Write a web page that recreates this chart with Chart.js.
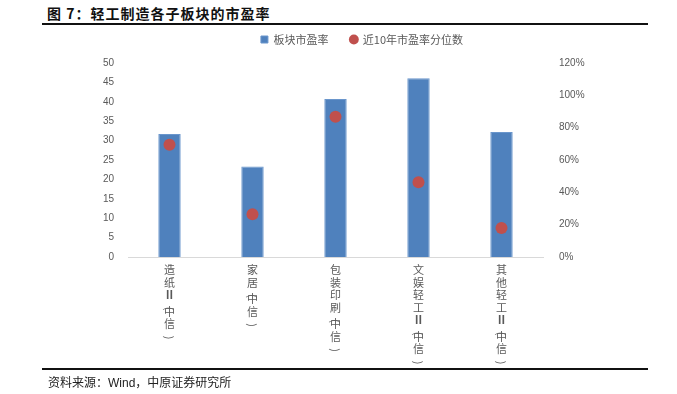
<!DOCTYPE html>
<html>
<head>
<meta charset="utf-8">
<script src="https://cdn.jsdelivr.net/npm/chart.js@4"></script>
<style>
    body{ margin:0; background:#fff; width:677px; height:394px; position:relative; overflow:hidden; }
    #title{ position:absolute; left:47px; top:3px; font:bold 14px "Noto Sans CJK SC"; color:#111; letter-spacing:1px; }
    .rule{ position:absolute; left:42px; width:606px; height:2px; background:#111; }
    #source{ position:absolute; left:48px; top:373px; font:12px "Noto Sans CJK SC"; color:#222; }
    #source span{ font-family:"Liberation Sans"; }
    #wrap{ position:absolute; left:0; top:0; width:677px; height:394px; }
</style>
</head>
<body>
<div id="title">图 7：轻工制造各子板块的市盈率</div>
<div class="rule" style="top:23px"></div>
<div id="wrap"><canvas id="graphPE"></canvas></div>
<div class="rule" style="top:368px"></div>
<div id="source">资料来源：<span>Wind</span>，中原证券研究所</div>

<script>
const categories = ['造纸Ⅱ(中信)', '家居(中信)', '包装印刷(中信)', '文娱轻工Ⅱ(中信)', '其他轻工Ⅱ(中信)'];
const peValues = [31.7, 23.3, 40.7, 46.1, 32.2];
const pePercentile = [69.4, 26.5, 86.8, 46.3, 18.0];
const seriesNames = ['板块市盈率', '近10年市盈率分位数'];

// vertical category labels, CJK upright, brackets turned
const verticalLabels = {
    id: 'verticalLabels',
    afterInit(chart){
        // a bit more room between legend and plot
        const fit = chart.legend.fit;
        chart.legend.fit = function(){
            fit.call(this);
            this.height += 8;
        };
    },
    afterDraw(chart){
        const ctx = chart.ctx;
        const xScale = chart.scales.x;
        ctx.save();
        ctx.fillStyle = '#595959';
        ctx.textAlign = 'center';
        ctx.textBaseline = 'middle';
        for(let i = 0; i < categories.length; i++){
            let px = xScale.getPixelForValue(i);
            let py = chart.chartArea.bottom + 13;
            for(const ch of categories[i]){
                if(ch === '(' || ch === ')'){
                    ctx.font = '11px "Noto Sans CJK SC"';
                    py += 1;
                    ctx.save();
                    ctx.translate(px, py);
                    ctx.rotate(Math.PI / 2);
                    ctx.fillText(ch, 0, 0);
                    ctx.restore();
                    py += 3;
                }
                else{
                    ctx.font = (ch === 'Ⅱ' ? 'bold ' : '') + '11px "Noto Sans CJK SC"';
                    ctx.fillText(ch, px, py);
                    py += 12.5;
                };
            };
        };
        ctx.restore();
    }
};

window.addEventListener("load", function(){

    Chart.defaults.font.family = '"Liberation Sans", "Noto Sans CJK SC"';
    Chart.defaults.font.size = 10;
    Chart.defaults.color = '#595959';

    const canvas = document.getElementById('graphPE').getContext('2d');
    new Chart(canvas, {
        data: {
            labels: categories,
            datasets: [{
                type: 'bar',
                label: seriesNames[0] + '  ',
                data: peValues,
                backgroundColor: '#4F81BD',
                borderColor: '#6A96CC',
                borderWidth: 1,
                categoryPercentage: 1,
                barPercentage: 0.27,
                yAxisID: 'y',
                order: 1,
                pointStyle: 'rect'
            },{
                type: 'line',
                label: seriesNames[1],
                data: pePercentile,
                showLine: false,
                pointRadius: 6,
                pointHoverRadius: 6,
                pointBorderWidth: 0,
                backgroundColor: '#C0504D',
                borderColor: '#C0504D',
                yAxisID: 'y1',
                order: 0,
                pointStyle: 'circle'
            }]
        },
        options: {
            responsive: true,
            maintainAspectRatio: false,
            animation: false,
            layout: {
                padding: { left: 98, right: 51, top: 17, bottom: 137 }
            },
            scales: {
                x: {
                    grid: { display: false, drawTicks: false },
                    border: { color: '#D9D9D9' },
                    ticks: { display: false },
                    afterFit(s){ s.height = 0; }
                },
                y: {
                    position: 'left',
                    min: 0, max: 50,
                    grid: { display: false },
                    border: { display: false },
                    ticks: { stepSize: 5, padding: 6 },
                    afterFit(s){ s.width = 30; }
                },
                y1: {
                    position: 'right',
                    min: 0, max: 120,
                    grid: { display: false },
                    border: { display: false },
                    ticks: { stepSize: 20, padding: 8, callback: (v) => v + '%' },
                    afterFit(s){ s.width = 83; }
                }
            },
            plugins: {
                legend: {
                    position: 'top',
                    labels: {
                        usePointStyle: true,
                        boxWidth: 7,
                        boxHeight: 7,
                        padding: 17,
                        font: { family: '"Noto Sans CJK SC"', size: 11 },
                        sort: (a, b) => a.datasetIndex - b.datasetIndex
                    }
                },
                tooltip: { enabled: false }
            }
        },
        plugins: [verticalLabels]
    });
});
</script>
</body>
</html>
